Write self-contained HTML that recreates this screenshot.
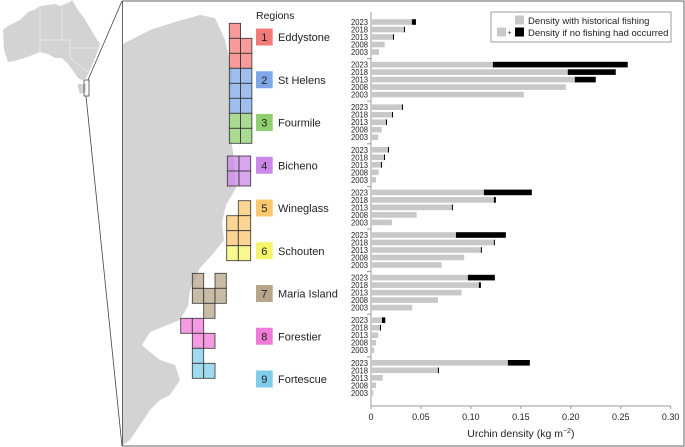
<!DOCTYPE html>
<html><head><meta charset="utf-8"><style>
body{margin:0;background:#fff;}
svg{display:block;font-family:"Liberation Sans",sans-serif;}
</style></head><body>
<svg width="685" height="447" viewBox="0 0 685 447">
<!-- Australia inset -->
<g>
<polygon fill="#d3d3d3" points="3,30 8,26 20,20 28,12 34,10 40,6 48,5 55,4 60,6 70,2 72,0 78,10 84,18 90,28 96,38 100,44 96,56 90,70 86,78 82,80 78,78 74,72 68,64 62,58 55,58 48,54 40,52 30,56 18,60 8,62 4,50"/>
<polygon fill="#d3d3d3" points="78,84 86,84 86,92 80,94 78,88"/>
<g stroke="#eee" stroke-width="0.7" fill="none">
<line x1="40" y1="6" x2="40" y2="52"/><line x1="40" y1="40" x2="70" y2="40"/><line x1="62" y1="4" x2="62" y2="40"/><line x1="70" y1="40" x2="70" y2="58"/><line x1="70" y1="48" x2="97" y2="48"/><line x1="70" y1="58" x2="88" y2="72"/>
</g>
<rect x="84" y="80" width="5" height="16" fill="none" stroke="#444" stroke-width="0.8"/>
<line x1="88" y1="80" x2="122" y2="1" stroke="#444" stroke-width="0.8"/>
<line x1="86" y1="96" x2="122" y2="446" stroke="#444" stroke-width="0.8"/>
</g>
<!-- panel -->
<rect x="122.5" y="1" width="561.5" height="445" fill="#fff" stroke="#666" stroke-width="1"/>
<polygon fill="#d3d3d3" points="123,44 150,30 175,22 200,15 215,18 225,40 232,70 230,130 234,160 236,188 226,205 222,222 224,240 212,255 200,268 190,290 188,306 180,320 165,326 150,332 142,345 150,352 160,360 175,365 180,380 170,395 160,400 150,410 140,425 130,440 123,445"/>
<g stroke="#333" stroke-width="0.8" fill-opacity="0.75">
<g fill="#f47a7a">
<rect x="229.3" y="23.3" width="11.3" height="15"/><rect x="229.3" y="38.3" width="11.3" height="15"/><rect x="240.6" y="38.3" width="11.3" height="15"/><rect x="229.3" y="53.3" width="11.3" height="15"/><rect x="240.6" y="53.3" width="11.3" height="15"/></g>
<g fill="#7fa8e8">
<rect x="229.3" y="68.3" width="11.3" height="15"/><rect x="240.6" y="68.3" width="11.3" height="15"/><rect x="229.3" y="83.3" width="11.3" height="15"/><rect x="240.6" y="83.3" width="11.3" height="15"/><rect x="229.3" y="98.3" width="11.3" height="15"/><rect x="240.6" y="98.3" width="11.3" height="15"/></g>
<g fill="#8fcf6f">
<rect x="229.3" y="113.3" width="11.3" height="15"/><rect x="240.6" y="113.3" width="11.3" height="15"/><rect x="229.3" y="128.3" width="11.3" height="15"/><rect x="240.6" y="128.3" width="11.3" height="15"/></g>
<g fill="#cc88e8">
<rect x="227.3" y="156" width="11.7" height="15"/><rect x="239" y="156" width="11.7" height="15"/><rect x="227.3" y="171" width="11.7" height="15"/><rect x="239" y="171" width="11.7" height="15"/></g>
<g fill="#fbc76f">
<rect x="238.3" y="200.7" width="12.4" height="15"/><rect x="226.7" y="215.7" width="11.6" height="15"/><rect x="238.3" y="215.7" width="12.4" height="15"/><rect x="226.7" y="230.7" width="11.6" height="15"/><rect x="238.3" y="230.7" width="12.4" height="15"/></g>
<g fill="#f5f56b">
<rect x="226.7" y="245.7" width="11.6" height="15"/><rect x="238.3" y="245.7" width="12.4" height="15"/></g>
<g fill="#b7a68a">
<rect x="192.3" y="273.3" width="11.4" height="15"/><rect x="215" y="273.3" width="11.3" height="15"/><rect x="192.3" y="288.3" width="11.4" height="15"/><rect x="203.7" y="288.3" width="11.3" height="15"/><rect x="215" y="288.3" width="11.3" height="15"/><rect x="203.7" y="303.3" width="11.3" height="15"/></g>
<g fill="#f07ad8">
<rect x="180.7" y="318.3" width="11.6" height="15"/><rect x="192.3" y="318.3" width="11.4" height="15"/><rect x="192.3" y="333.3" width="11.4" height="15"/><rect x="203.7" y="333.3" width="11.3" height="15"/></g>
<g fill="#7fcde8">
<rect x="192.3" y="348.3" width="11.4" height="15"/><rect x="192.3" y="363.3" width="11.4" height="15"/><rect x="203.7" y="363.3" width="11.3" height="15"/></g>
</g>
<text x="256" y="19" font-size="10.5" fill="#222">Regions</text>
<g id="regionLegend"></g>
<g id="chart"></g>
</svg>
<script>
const regions=["Eddystone","St Helens","Fourmile","Bicheno","Wineglass","Schouten","Maria Island","Forestier","Fortescue"];
const regionColors=["#f47a7a","#7fa8e8","#8fcf6f","#cc88e8","#fbc76f","#f5f56b","#b7a68a","#f07ad8","#7fcde8"];
const years=["2023","2018","2013","2008","2003"];
const densityFished=[
[0.041,0.033,0.022,0.0137,0.008],
[0.122,0.197,0.204,0.195,0.153],
[0.031,0.021,0.015,0.0107,0.0073],
[0.017,0.013,0.010,0.0077,0.005],
[0.113,0.123,0.081,0.0457,0.021],
[0.085,0.123,0.110,0.0933,0.0707],
[0.097,0.108,0.0907,0.067,0.0413],
[0.011,0.009,0.007,0.005,0.003],
[0.137,0.067,0.0117,0.005,0.0023]];
const densityUnfished=[
[0.045,0.034,0.0227,0.0137,0.008],
[0.257,0.245,0.225,0.195,0.153],
[0.032,0.0217,0.0153,0.0107,0.0073],
[0.0175,0.0137,0.0103,0.0077,0.005],
[0.161,0.125,0.082,0.0457,0.021],
[0.135,0.124,0.111,0.0933,0.0707],
[0.124,0.110,0.0907,0.067,0.0413],
[0.0143,0.0097,0.007,0.005,0.003],
[0.159,0.068,0.0117,0.005,0.0023]];
const xTicks=[0,0.05,0.10,0.15,0.20,0.25,0.30];
const xTickLabels=["0","0.05","0.10","0.15","0.20","0.25","0.30"];

const NS="http://www.w3.org/2000/svg";
function mk(tag,attrs,parent){const e=document.createElementNS(NS,tag);for(const k in attrs)e.setAttribute(k,attrs[k]);parent.appendChild(e);return e;}
const X0=371,X1=670.7,YTOP=12,YBOT=406;
const xScale=v=>X0+(v-xTicks[0])/(xTicks[xTicks.length-1]-xTicks[0])*(X1-X0);
const groupY=g=>22+g*42.6;
const rowY=(g,r)=>groupY(g)+r*7.5;

const leg=document.getElementById('regionLegend');
regions.forEach((name,i)=>{
  const cy=37+i*42.75;
  const s=mk('rect',{x:256,y:cy-8.5,width:16.7,height:17,fill:regionColors[i]},leg);
  
  
  const n=mk('text',{x:264.3,y:cy+4,'font-size':11,'text-anchor':'middle',fill:'#222'},leg);
  n.textContent=String(i+1);
  
  
  const t=mk('text',{x:278,y:cy+4,'font-size':11,fill:'#222'},leg);
  t.textContent=name;
  
  
});

const ch=document.getElementById('chart');
// axes
let a=mk('line',{x1:X0,y1:YTOP,x2:X0,y2:YBOT,stroke:'#999','stroke-width':1},ch);

a=mk('line',{x1:X0,y1:YBOT,x2:X1,y2:YBOT,stroke:'#999','stroke-width':1},ch);

xTicks.forEach((v,i)=>{
  const x=xScale(v);
  const tk=mk('line',{x1:x,y1:YBOT,x2:x,y2:YBOT+3,stroke:'#999'},ch);
  
  const tl=mk('text',{x:x,y:YBOT+14,'font-size':9,'text-anchor':'middle',fill:'#222'},ch);
  tl.textContent=xTickLabels[i];
  
});
const xt=mk('text',{x:(X0+X1)/2,y:437,'font-size':10.5,'text-anchor':'middle',fill:'#222'},ch);
xt.innerHTML='Urchin density (kg m<tspan dy="-4" font-size="7">−2</tspan><tspan dy="4">)</tspan>';


regions.forEach((name,g)=>{
  if(g>0){const sep=mk('line',{x1:X0-4,y1:groupY(g)-6,x2:X0,y2:groupY(g)-6,stroke:'#999'},ch);
    }
  years.forEach((yr,r)=>{
    const cy=rowY(g,r);
    const yl=mk('text',{x:368,y:cy+3,'font-size':8,'text-anchor':'end',fill:'#222',textLength:17,lengthAdjust:'spacingAndGlyphs'},ch);
    yl.textContent=yr;
    
    const gv=densityFished[g][r],uv=densityUnfished[g][r];
    const b=mk('rect',{x:X0,y:cy-2.8,width:Math.max(0,xScale(gv)-X0),height:5.6,fill:'#c8c8c8'},ch);
    
    if(uv>gv){
      const w=Math.max(1,xScale(uv)-xScale(gv));
      const k=mk('rect',{x:xScale(gv),y:cy-2.8,width:w,height:5.6,fill:'#000'},ch);
      
    }
  });
});
// legend
const lg=mk('g',{},ch);

mk('rect',{x:491,y:12,width:180,height:30,fill:'#fff',stroke:'#888','stroke-width':0.8},lg);
mk('rect',{x:515,y:15.5,width:9,height:9,fill:'#c8c8c8'},lg);
let lt=mk('text',{x:528,y:24,'font-size':9.5,fill:'#222'},lg);lt.textContent='Density with historical fishing';
mk('rect',{x:497,y:27.5,width:9,height:9,fill:'#c8c8c8'},lg);
lt=mk('text',{x:507.5,y:35,'font-size':7,fill:'#222'},lg);lt.textContent='+';
mk('rect',{x:515,y:27.5,width:9,height:9,fill:'#000'},lg);
lt=mk('text',{x:528,y:36,'font-size':9.5,fill:'#222'},lg);lt.textContent='Density if no fishing had occurred';
</script>
</body></html>
